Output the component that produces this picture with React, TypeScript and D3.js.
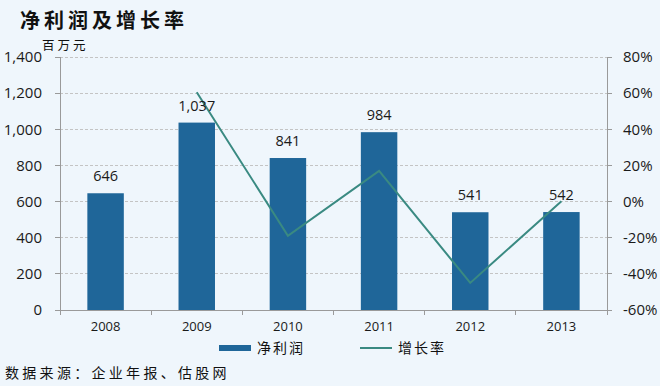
import * as d3 from "d3";

const years = ["2008", "2009", "2010", "2011", "2012", "2013"];
const netProfit = [646, 1037, 841, 984, 541, 542];
const growthRate: (number | null)[] = [null, 60.5, -18.9, 17.0, -45.0, 0.2];
const leftTicks = [0, 200, 400, 600, 800, 1000, 1200, 1400];
const rightTicks = [-60, -40, -20, 0, 20, 40, 60, 80];

const width = 660;
const height = 386;
const margin = { top: 57, right: 53, bottom: 76, left: 60 };

const barColor = "#1F6699";
const lineColor = "#3A8A82";
const textColor = "#1a1a1a";
const axisColor = "#9a9a9a";
const numFont = "'Open Sans', sans-serif";
const cjkFont = "'Noto Sans CJK SC', sans-serif";

export default function App() {
    const x0 = margin.left;
    const x1 = width - margin.right;
    const y0 = height - margin.bottom;
    const y1 = margin.top;

    const x = d3.scaleBand().domain(years).range([x0, x1]).paddingInner(0.6).paddingOuter(0.3);
    const step = x.step();
    const yLeft = d3.scaleLinear().domain([0, 1400]).range([y0, y1]);
    const yRight = d3.scaleLinear().domain([-60, 80]).range([y0, y1]);
    const fmt = d3.format(",");

    const points = years
        .map((yr, i) => ({ yr, v: growthRate[i] }))
        .filter(d => d.v !== null) as { yr: string; v: number }[];
    const line = d3
        .line<{ yr: string; v: number }>()
        .x(d => x(d.yr)! + x.bandwidth() / 2)
        .y(d => yRight(d.v));

    // boundaries between categories for x ticks
    const xTicks = d3.range(years.length + 1).map(i => x0 + i * step);

    return (
        <svg width={width} height={height} style={{ position: "absolute", left: 0, top: 0 }}>
            <rect width={width} height={height} fill="#EFF6FC" />

            {/* title */}
            <text x={20} y={28} fontFamily={cjkFont} fontWeight="bold" fontSize={20} letterSpacing={4} fill="#111">
                净利润及增长率
            </text>
            <text x={42} y={50} fontFamily={cjkFont} fontSize={12.5} letterSpacing={3} fill="#111">
                百万元
            </text>

            {/* gridlines */}
            {leftTicks.slice(1).map(t => (
                <line key={t} x1={x0} x2={x1} y1={yLeft(t)} y2={yLeft(t)}
                    stroke="#c4c4c4" strokeDasharray="3 2" shapeRendering="crispEdges" />
            ))}

            {/* bars */}
            {years.map((yr, i) => (
                <rect key={yr} x={x(yr)} y={yLeft(netProfit[i])} width={x.bandwidth()}
                    height={y0 - yLeft(netProfit[i])} fill={barColor} />
            ))}

            {/* growth line */}
            <path d={line(points) ?? ""} fill="none" stroke={lineColor} strokeWidth={2} />

            {/* value labels */}
            {years.map((yr, i) => (
                <text key={yr} x={x(yr)! + x.bandwidth() / 2} y={yLeft(netProfit[i]) - 12}
                    textAnchor="middle" fontFamily={numFont} fontSize={14.5} fill={textColor}>
                    {fmt(netProfit[i])}
                </text>
            ))}

            {/* left axis */}
            <line x1={x0} x2={x0} y1={y1} y2={y0} stroke={axisColor} shapeRendering="crispEdges" />
            {leftTicks.map(t => (
                <g key={t}>
                    <line x1={x0 - 5} x2={x0} y1={yLeft(t)} y2={yLeft(t)} stroke={axisColor} shapeRendering="crispEdges" />
                    <text x={x0 - 18} y={yLeft(t)} dy="0.35em" textAnchor="end"
                        fontFamily={numFont} fontSize={15} fill={textColor}>
                        {fmt(t)}
                    </text>
                </g>
            ))}

            {/* right axis */}
            <line x1={x1} x2={x1} y1={y1} y2={y0} stroke={axisColor} shapeRendering="crispEdges" />
            {rightTicks.map(t => (
                <g key={t}>
                    <line x1={x1} x2={x1 + 5} y1={yRight(t)} y2={yRight(t)} stroke={axisColor} shapeRendering="crispEdges" />
                    <text x={x1 + 16} y={yRight(t)} dy="0.35em" textAnchor="start"
                        fontFamily={numFont} fontSize={15} fill={textColor}>
                        {t}%
                    </text>
                </g>
            ))}

            {/* x axis */}
            <line x1={x0} x2={x1} y1={y0} y2={y0} stroke={axisColor} shapeRendering="crispEdges" />
            {xTicks.map((t, i) => (
                <line key={i} x1={t} x2={t} y1={y0} y2={y0 + 5} stroke={axisColor} shapeRendering="crispEdges" />
            ))}
            {years.map(yr => (
                <text key={yr} x={x(yr)! + x.bandwidth() / 2} y={y0 + 21} textAnchor="middle"
                    fontFamily={numFont} fontSize={13} fill={textColor}>
                    {yr}
                </text>
            ))}

            {/* legend */}
            <rect x={219} y={345} width={32} height={6} fill={barColor} />
            <text x={257} y={348} dy="0.35em" fontFamily={cjkFont} fontSize={14} letterSpacing={2} fill="#111">
                净利润
            </text>
            <line x1={360} x2={392} y1={348} y2={348} stroke={lineColor} strokeWidth={2} />
            <text x={398} y={348} dy="0.35em" fontFamily={cjkFont} fontSize={14} letterSpacing={2} fill="#111">
                增长率
            </text>

            {/* source */}
            <text x={5} y={373} dy="0.35em" fontFamily={cjkFont} fontSize={14} letterSpacing={3.3} fill="#111">
                数据来源：企业年报、估股网
            </text>
        </svg>
    );
}
